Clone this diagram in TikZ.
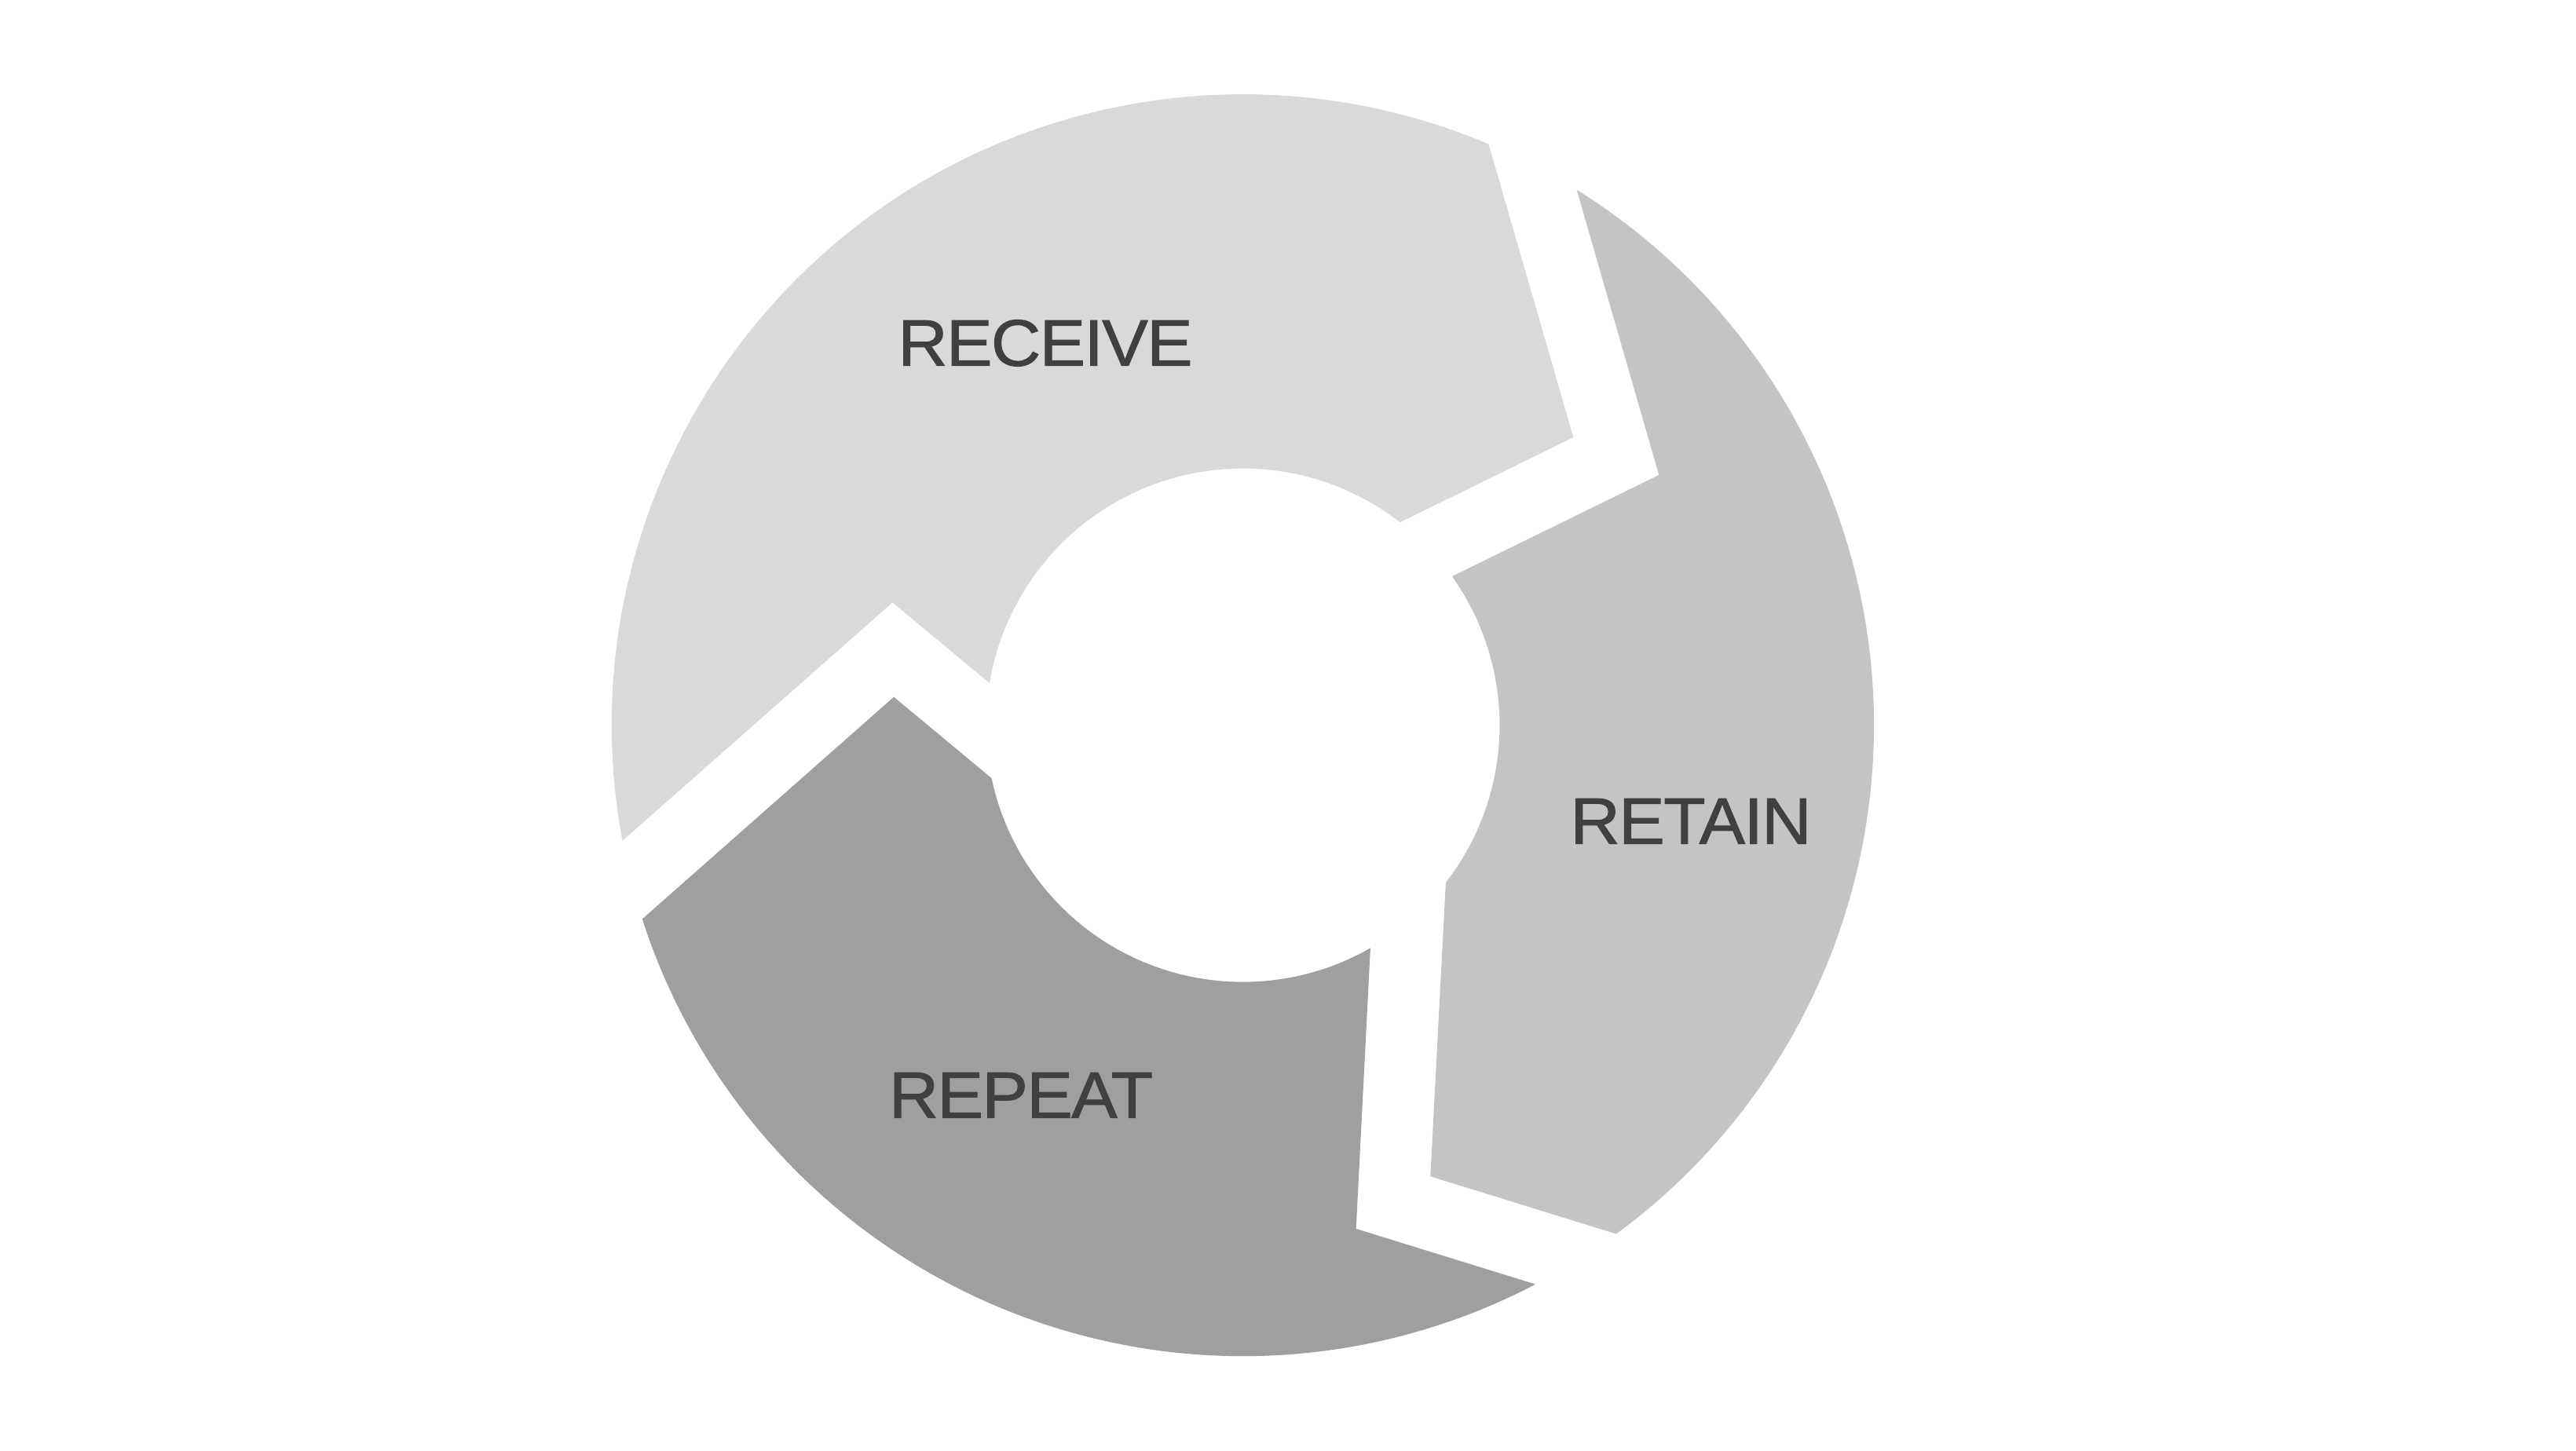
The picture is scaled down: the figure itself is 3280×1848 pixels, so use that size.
\documentclass[tikz,border=0pt]{standalone}
\usepackage{fontspec}
\setmainfont{Liberation Sans}
\newfontfamily\labelfont{Liberation Sans}[FakeBold=1.2,FakeStretch=1.05,LetterSpace=-2]
\usepackage{xcolor}
\usepackage{tikz}
\usetikzlibrary{calc,positioning}

\definecolor{receivegray}{HTML}{D9D9D9}
\definecolor{retaingray}{HTML}{C4C4C4}
\definecolor{repeatgray}{HTML}{9F9F9F}
\definecolor{labelgray}{HTML}{404040}

\begin{document}
\begin{tikzpicture}
	[x=0.25pt,y=0.25pt,
	label/.style={inner sep=0pt,text=labelgray,font=\labelfont\fontsize{20.9}{25}\selectfont}]
	\fill[white] (0,0) rectangle (3280,1848);
	\useasboundingbox (0,0) rectangle (3280,1848);
	\coordinate (c) at (1582.5,924.3);
	% receive
	\fill[receivegray] ($(c)+(190.55:803.6)$) arc[start angle=190.55,end angle=67.08,radius=803.6]
		-- ($(c)+(41.07:558.2)$) -- ($(c)+(52.24:327)$)
		arc[start angle=52.24,end angle=170.55,radius=327]
		-- ($(c)+(160.68:472.7)$) -- cycle;
	% retain
	\fill[retaingray] ($(c)+(58.06:803.6)$) arc[start angle=58.06,end angle=-53.73,radius=803.6]
		-- ($(c)+(-67.43:622.2)$) -- ($(c)+(-37.79:327)$)
		arc[start angle=-37.79,end angle=35.44,radius=327]
		-- ($(c)+(31.03:618.3)$) -- cycle;
	% repeat
	\fill[repeatgray] ($(c)+(-62.38:803.6)$) arc[start angle=-62.38,end angle=-162.11,radius=803.6]
		-- ($(c)+(175.37:445.9)$) -- ($(c)+(-168.11:327)$)
		arc[start angle=-168.11,end angle=-60.22,radius=327]
		-- ($(c)+(-77.33:657.3)$) -- cycle;
	\node[label] (receive) at (1331,1411) {RECEIVE};
	\node[label] (retain) at (2153,802) {RETAIN};
	\node[label] (repeat) at (1300,453) {REPEAT};
\end{tikzpicture}
\end{document}
